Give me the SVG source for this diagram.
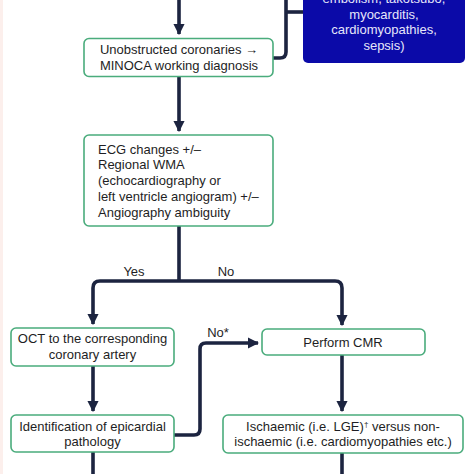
<svg xmlns="http://www.w3.org/2000/svg" width="474" height="474" viewBox="0 0 474 474">
<style>
.box{fill:#ffffff;stroke:#4aac7c;stroke-width:1.6}
.t{font-family:"Liberation Sans",Arial,sans-serif;font-size:13px;fill:#1e1e24}
.w{font-family:"Liberation Sans",Arial,sans-serif;font-size:13px;fill:#e6e6fa}
.c{text-anchor:middle}
.ln{fill:none;stroke:#1c2440;stroke-width:3.6;stroke-linejoin:round}
</style>
<defs>
<marker id="ah" viewBox="0 0 10 10" refX="9" refY="5" markerWidth="3.2" markerHeight="3.2" orient="auto" markerUnits="strokeWidth">
<path d="M0,0 L10,5 L0,10 z" fill="#1c2440"/>
</marker>
</defs>
<rect width="474" height="474" fill="#ffffff"/>
<rect x="0" y="0" width="3" height="474" fill="#fcefec"/>
<g id="connectors">
<path class="ln" d="M179,0 V34" marker-end="url(#ah)"/>
<path class="ln" d="M273,58 H280 Q286,58 286,52 V0"/>
<path class="ln" d="M286,12 H303"/>
<path class="ln" d="M179,77 V131" marker-end="url(#ah)"/>
<path class="ln" d="M179,226 V281"/>
<path class="ln" d="M179,281 H100 Q93,281 93,288 V324" marker-end="url(#ah)"/>
<path class="ln" d="M179,281 H335 Q342,281 342,288 V325" marker-end="url(#ah)"/>
<path class="ln" d="M93,366 V411" marker-end="url(#ah)"/>
<path class="ln" d="M93,452 V474"/>
<path class="ln" d="M174,435 H194 Q200,435 200,429 V349 Q200,343 206,343 H258" marker-end="url(#ah)"/>
<path class="ln" d="M342,355 V411" marker-end="url(#ah)"/>
<path class="ln" d="M342,453 V474"/>
<text class="t c" x="134" y="276">Yes</text>
<text class="t c" x="226" y="276">No</text>
<text class="t c" x="218" y="337">No*</text>
</g>
<g id="blue">
<rect x="303" y="-20" width="162" height="83" rx="5" fill="#0b0aa8"/>
<text class="w c" x="384" y="3">embolism, takotsubo,</text>
<text class="w c" x="384" y="18.5">myocarditis,</text>
<text class="w c" x="384" y="34">cardiomyopathies,</text>
<text class="w c" x="384" y="49.5">sepsis)</text>
</g>
<g id="unobstructed">
<rect class="box" x="84" y="38.5" width="189" height="38" rx="5"/>
<text class="t c" x="179" y="54">Unobstructed coronaries →</text>
<text class="t c" x="179" y="69.5">MINOCA working diagnosis</text>
</g>
<g id="ecg">
<rect class="box" x="84" y="135" width="189" height="91" rx="5"/>
<text class="t" x="98" y="153.5">ECG changes +/–</text>
<text class="t" x="98" y="169">Regional WMA</text>
<text class="t" x="98" y="185">(echocardiography or</text>
<text class="t" x="98" y="201">left ventricle angiogram) +/–</text>
<text class="t" x="98" y="216.5">Angiography ambiguity</text>
</g>
<g id="oct">
<rect class="box" x="11" y="328" width="163" height="38" rx="5"/>
<text class="t c" x="92.5" y="342.5">OCT to the corresponding</text>
<text class="t c" x="92.5" y="358.5">coronary artery</text>
</g>
<g id="cmr">
<rect class="box" x="262" y="329" width="163" height="26" rx="5"/>
<text class="t c" x="343" y="346.5">Perform CMR</text>
</g>
<g id="identification">
<rect class="box" x="11" y="415" width="163" height="37" rx="5"/>
<text class="t c" x="92.5" y="430.5">Identification of epicardial</text>
<text class="t c" x="92.5" y="446">pathology</text>
</g>
<g id="ischaemic">
<rect class="box" x="223" y="415" width="240" height="38" rx="5"/>
<text class="t c" x="343" y="430.5">Ischaemic (i.e. LGE)<tspan font-size="8" dy="-4">†</tspan><tspan dy="4"> versus non-</tspan></text>
<text class="t c" x="343" y="446">ischaemic (i.e. cardiomyopathies etc.)</text>
</g>
</svg>
